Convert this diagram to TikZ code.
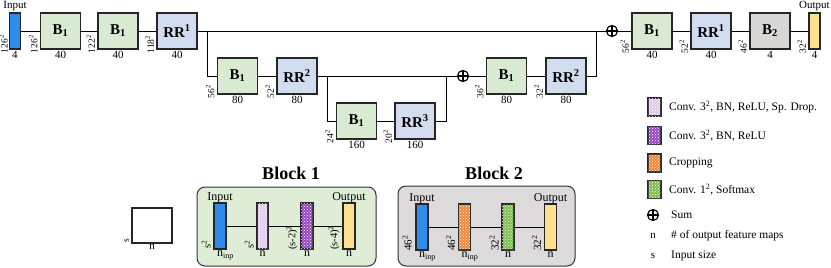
\documentclass[tikz,border=0pt]{standalone}
\usepackage{fontspec}
\setmainfont{Liberation Serif}
\usetikzlibrary{patterns}
\definecolor{gfill}{HTML}{D9EAD3}
\definecolor{bfill}{HTML}{D2DCEF}
\definecolor{grayfill}{HTML}{D9D6D6}
\definecolor{blueb}{HTML}{2E8DEA}
\definecolor{yell}{HTML}{FFE08E}
\definecolor{ppale}{HTML}{E3C9EE}
\definecolor{pdark}{HTML}{9747C6}
\definecolor{oran}{HTML}{F58634}
\definecolor{grn}{HTML}{7CBF4C}
\definecolor{blkone}{HTML}{E0EDD6}
\definecolor{blktwo}{HTML}{DCDADA}
\begin{document}
\begin{tikzpicture}[x=1pt,y=-1pt,
 box/.style={draw=black!85, line width=1.3pt, minimum width=40pt, minimum height=36pt, inner sep=0pt, font=\fontsize{15}{15}\selectfont\bfseries},
 gb/.style={box, fill=gfill},
 bb/.style={box, fill=bfill},
 yb/.style={box, fill=grayfill},
 bar/.style={draw=black!85, line width=1.2pt, minimum width=11pt, minimum height=36pt, inner sep=0pt},
 tbar/.style={bar, minimum width=12pt, minimum height=46pt},
 dotfill/.style={postaction={pattern=crosshatch dots, pattern color=white}},
 lbl/.style={font=\fontsize{11}{11}\selectfont, inner sep=1pt},
 blbl/.style={font=\fontsize{12}{12}\selectfont, inner sep=1pt},
 lgd/.style={font=\fontsize{11.5}{11.5}\selectfont, inner sep=1pt, anchor=west},
 rl/.style={font=\fontsize{9.5}{9.5}\selectfont, rotate=90, anchor=south west, inner sep=0.3pt},
 brl/.style={font=\fontsize{10.5}{10.5}\selectfont, rotate=90, anchor=south west, inner sep=0.5pt},
 conn/.style={line width=0.9pt},
 sumnode/.style={circle, draw, line width=1.2pt, minimum size=11pt, inner sep=0pt,
   path picture={\draw[line width=1.1pt] (path picture bounding box.north) -- (path picture bounding box.south) (path picture bounding box.west) -- (path picture bounding box.east);}},
]
\useasboundingbox (0,0) rectangle (831,268);

% ---------- top row ----------
\node[bar, fill=blueb] (in) at (15,31) {};
\node[lbl, above] (inlbl) at (in.north) {Input};
\node[lbl, below] (inn) at (in.south) {4};
\node[rl] (ins) at ([shift={(-0.8,4)}]in.south west) {126\textsuperscript{2}};

\node[gb] (b1a) at (60.5,31) {B\textsubscript{1}};
\node[lbl, below] (b1an) at (b1a.south) {40};
\node[rl] (b1as) at ([shift={(-2,4)}]b1a.south west) {126\textsuperscript{2}};

\node[gb] (b1b) at (118,31) {B\textsubscript{1}};
\node[lbl, below] (b1bn) at (b1b.south) {40};
\node[rl] (b1bs) at ([shift={(-2,4)}]b1b.south west) {122\textsuperscript{2}};

\node[bb] (rr1a) at (177,31) {RR\textsuperscript{1}};
\node[lbl, below] (rr1an) at (rr1a.south) {40};
\node[rl] (rr1as) at ([shift={(-2,4)}]rr1a.south west) {118\textsuperscript{2}};

% ---------- second row ----------
\node[gb] (b1c) at (237.5,76) {B\textsubscript{1}};
\node[lbl, below] (b1cn) at (b1c.south) {80};
\node[rl] (b1cs) at ([shift={(-2,4)}]b1c.south west) {56\textsuperscript{2}};

\node[bb] (rr2a) at (297,76) {RR\textsuperscript{2}};
\node[lbl, below] (rr2an) at (rr2a.south) {80};
\node[rl] (rr2as) at ([shift={(-2,4)}]rr2a.south west) {52\textsuperscript{2}};

% ---------- third row ----------
\node[gb] (b1d) at (356.5,121) {B\textsubscript{1}};
\node[lbl, below] (b1dn) at (b1d.south) {160};
\node[rl] (b1ds) at ([shift={(-2,4)}]b1d.south west) {24\textsuperscript{2}};

\node[bb] (rr3) at (415,121) {RR\textsuperscript{3}};
\node[lbl, below] (rr3n) at (rr3.south) {160};
\node[rl] (rr3s) at ([shift={(-2,4)}]rr3.south west) {20\textsuperscript{2}};

% ---------- second row right ----------
\node[sumnode] (sum2) at (463,76) {};
\node[gb] (b1e) at (506.5,76) {B\textsubscript{1}};
\node[lbl, below] (b1en) at (b1e.south) {80};
\node[rl] (b1es) at ([shift={(-2,4)}]b1e.south west) {36\textsuperscript{2}};

\node[bb] (rr2b) at (566,76) {RR\textsuperscript{2}};
\node[lbl, below] (rr2bn) at (rr2b.south) {80};
\node[rl] (rr2bs) at ([shift={(-2,4)}]rr2b.south west) {32\textsuperscript{2}};

% ---------- top row right ----------
\node[sumnode] (sum1) at (612,31) {};
\node[gb] (b1f) at (652,31) {B\textsubscript{1}};
\node[lbl, below] (b1fn) at (b1f.south) {40};
\node[rl] (b1fs) at ([shift={(-2,4)}]b1f.south west) {56\textsuperscript{2}};

\node[bb] (rr1b) at (711,31) {RR\textsuperscript{1}};
\node[lbl, below] (rr1bn) at (rr1b.south) {40};
\node[rl] (rr1bs) at ([shift={(-2,4)}]rr1b.south west) {52\textsuperscript{2}};

\node[yb] (b2) at (770,31) {B\textsubscript{2}};
\node[lbl, below] (b2n) at (b2.south) {4};
\node[rl] (b2s) at ([shift={(-2,4)}]b2.south west) {46\textsuperscript{2}};

\node[bar, fill=yell] (out) at (814.5,31) {};
\node[lbl, above] (outlbl) at (out.north) {Output};
\node[lbl, below] (outn) at (out.south) {4};
\node[rl] (outs) at ([shift={(-2,4)}]out.south west) {32\textsuperscript{2}};

% ---------- connectors ----------
\coordinate (c1) at (207,31);
\coordinate (c3) at (327,76);
\coordinate (c6) at (446,76);
\coordinate (c8) at (596,31);
\draw[conn] (in.east) -- (b1a.west);
\draw[conn] (b1a.east) -- (b1b.west);
\draw[conn] (b1b.east) -- (rr1a.west);
\draw[conn] (rr1a.east) -- (sum1.west);
\draw[conn] (c1) |- (b1c.west);
\draw[conn] (b1c.east) -- (rr2a.west);
\draw[conn] (rr2a.east) -- (sum2.west);
\draw[conn] (c3) |- (b1d.west);
\draw[conn] (b1d.east) -- (rr3.west);
\draw[conn] (rr3.east) -| (c6);
\draw[conn] (sum2.east) -- (b1e.west);
\draw[conn] (b1e.east) -- (rr2b.west);
\draw[conn] (rr2b.east) -| (c8);
\draw[conn] (sum1.east) -- (b1f.west);
\draw[conn] (b1f.east) -- (rr1b.west);
\draw[conn] (rr1b.east) -- (b2.west);
\draw[conn] (b2.east) -- (out.west);

% ---------- size key ----------
\node[draw=black!85, line width=1.2pt, minimum width=40pt, minimum height=35pt, inner sep=0pt] (key) at (152,225.5) {};
\node[rl] (keys) at ([shift={(-2,-1)}]key.south west) {s};
\node[lbl, below] (keyn) at (key.south) {n};

% ---------- Block 1 ----------
\node[font=\fontsize{18}{18}\selectfont\bfseries] (t1) at (291,173) {Block 1};
\node[draw=black!80, line width=1pt, rounded corners=8pt, fill=blkone, minimum width=179pt, minimum height=79pt, inner sep=0pt] (blk1) at (286.5,226.5) {};
\node[tbar, fill=blueb] (p1) at (220,226) {};
\node[tbar, fill=ppale, dotfill, minimum width=11pt] (p2) at (262.5,226) {};
\node[tbar, fill=pdark, dotfill] (p3) at (307,226) {};
\node[tbar, fill=yell] (p4) at (349,226) {};
\draw[conn] (p1.east) -- (p2.west);
\draw[conn] (p2.east) -- (p3.west);
\draw[conn] (p3.east) -- (p4.west);
\node[blbl, above] (p1t) at ([yshift=-1.5pt]p1.north) {Input};
\node[blbl, above] (p4t) at ([yshift=-1.5pt]p4.north) {Output};
\node[brl] (p1s) at ([shift={(-2,0)}]p1.south west) {s\textsuperscript{2}};
\node[brl] (p2s) at ([shift={(-2,0)}]p2.south west) {s\textsuperscript{2}};
\node[brl] (p3s) at ([shift={(-2,1)}]p3.south west) {(s-2)\textsuperscript{2}};
\node[brl] (p4s) at ([shift={(-2,1)}]p4.south west) {(s-4)\textsuperscript{2}};
\node[blbl, below right] (p1n) at ([xshift=-4pt]p1.south) {n\textsubscript{inp}};
\node[blbl, below] (p2n) at (p2.south) {n};
\node[blbl, below] (p3n) at (p3.south) {n};
\node[blbl, below] (p4n) at (p4.south) {n};

% ---------- Block 2 ----------
\node[font=\fontsize{18}{18}\selectfont\bfseries] (t2) at (494,173) {Block 2};
\node[draw=black!80, line width=1pt, rounded corners=8pt, fill=blktwo, minimum width=177pt, minimum height=80pt, inner sep=0pt] (blk2) at (486.5,226) {};
\node[tbar, fill=blueb] (q1) at (422,227) {};
\node[tbar, fill=oran, dotfill] (q2) at (464.5,227) {};
\node[tbar, fill=grn, dotfill] (q3) at (508,227) {};
\node[tbar, fill=yell] (q4) at (550.5,227) {};
\draw[conn] (q1.east) -- (q2.west);
\draw[conn] (q2.east) -- (q3.west);
\draw[conn] (q3.east) -- (q4.west);
\node[blbl, above] (q1t) at ([yshift=-1.5pt]q1.north) {Input};
\node[blbl, above] (q4t) at ([yshift=-1.5pt]q4.north) {Output};
\node[brl, font=\fontsize{11}{11}\selectfont] (q1s) at ([shift={(-3,1)}]q1.south west) {46\textsuperscript{2}};
\node[brl, font=\fontsize{11}{11}\selectfont] (q2s) at ([shift={(-2,1)}]q2.south west) {46\textsuperscript{2}};
\node[brl, font=\fontsize{11}{11}\selectfont] (q3s) at ([shift={(-2,1)}]q3.south west) {32\textsuperscript{2}};
\node[brl, font=\fontsize{11}{11}\selectfont] (q4s) at ([shift={(-2,1)}]q4.south west) {32\textsuperscript{2}};
\node[blbl, below right] (q1n) at ([xshift=-4pt]q1.south) {n\textsubscript{inp}};
\node[blbl, below right] (q2n) at ([xshift=-4pt]q2.south) {n\textsubscript{inp}};
\node[blbl, below] (q3n) at (q3.south) {n};
\node[blbl, below] (q4n) at (q4.south) {n};

% ---------- legend ----------
\node[bar, minimum width=13pt, minimum height=18pt, fill=ppale, dotfill] (g1) at (654.5,107) {};
\node[lgd] (g1t) at (668,107) {Conv. 3\textsuperscript{2}, BN, ReLU, Sp. Drop.};
\node[bar, minimum width=13pt, minimum height=18pt, fill=pdark, dotfill] (g2) at (654.5,135.5) {};
\node[lgd] (g2t) at (668,135.5) {Conv. 3\textsuperscript{2}, BN, ReLU};
\node[bar, minimum width=13pt, minimum height=18pt, fill=oran, dotfill] (g3) at (654.5,163) {};
\node[lgd] (g3t) at (668,163) {Cropping};
\node[bar, minimum width=13pt, minimum height=18pt, fill=grn, dotfill] (g4) at (654.5,189.5) {};
\node[lgd] (g4t) at (668,189.5) {Conv. 1\textsuperscript{2}, Softmax};
\node[sumnode] (g5) at (653,215) {};
\node[lgd] (g5t) at (670,215) {Sum};
\node[lbl] (g6) at (653,236) {n};
\node[lgd] (g6t) at (670,236) {\# of output feature maps};
\node[lbl] (g7) at (653,256) {s};
\node[lgd] (g7t) at (670,256) {Input size};
\end{tikzpicture}
\end{document}
